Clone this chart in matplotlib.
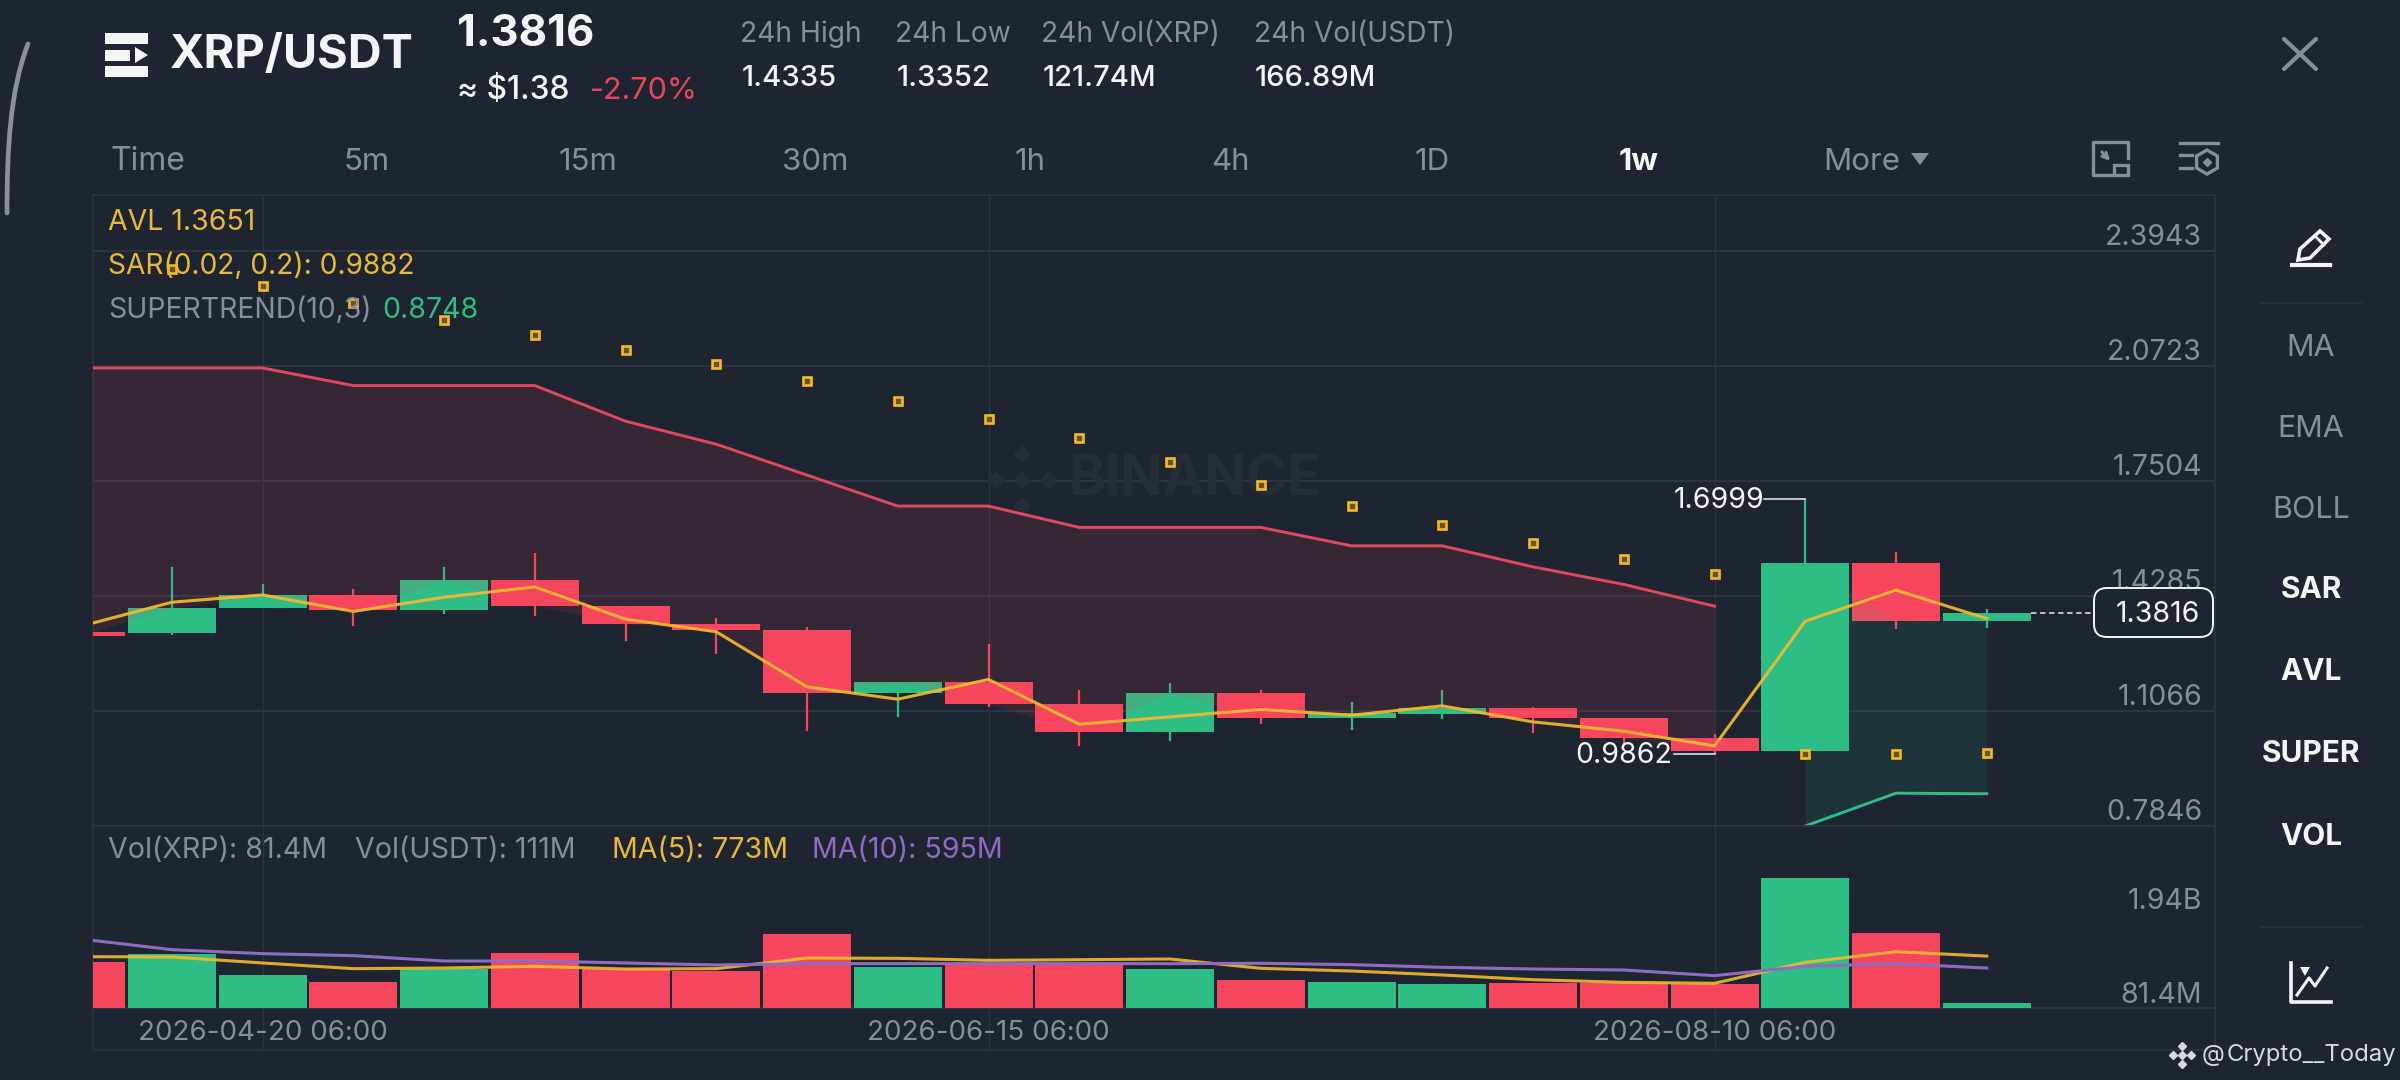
import numpy as np
import matplotlib
matplotlib.use("Agg")
import matplotlib.pyplot as plt
from matplotlib.patches import Rectangle, Polygon, FancyBboxPatch, RegularPolygon, PathPatch
from matplotlib.path import Path

plt.rcParams['font.family'] = ['Inter', 'DejaVu Sans']

# candles, oldest first
opens = [1.3263, 1.3240, 1.3946, 1.4301, 1.3881, 1.4730, 1.4010, 1.3509, 1.3327, 1.1555, 1.1863,
         1.1255, 1.0480, 1.1572, 1.0855, 1.0975, 1.1135, 1.0863, 1.0304, 0.9940, 1.5203, 1.3579]
closes = [1.3176, 1.3937, 1.4301, 1.3881, 1.4730, 1.4010, 1.3509, 1.3327, 1.1555, 1.1863, 1.1255,
          1.0480, 1.1572, 1.0855, 1.0995, 1.1135, 1.0863, 1.0304, 0.9940, 1.5203, 1.3579, 1.3816]
highs = [1.3263, 1.5105, 1.4623, 1.4483, 1.5082, 1.5500, 1.4010, 1.3657, 1.3419, 1.1863, 1.2935,
         1.1647, 1.1835, 1.1647, 1.1303, 1.1647, 1.1163, 1.0863, 1.0416, 1.6999, 1.5502, 1.3907]
lows = [1.3176, 1.3198, 1.3946, 1.3445, 1.3775, 1.3711, 1.3014, 1.2661, 1.0508, 1.0883, 1.1180,
        1.0088, 1.0228, 1.0695, 1.0527, 1.0836, 1.0452, 1.0108, 0.9862, 0.9940, 1.3347, 1.3392]

avl = [1.3439, 1.4108, 1.4313, 1.3851, 1.4248, 1.4537, 1.3635, 1.3282, 1.1740, 1.1395, 1.1947,
       1.0695, 1.0900, 1.1107, 1.0947, 1.1208, 1.0760, 1.0500, 1.0088, 1.3579, 1.4447, 1.3651]
sar = [np.nan, 2.3428, 2.2946, 2.2476, 2.2014, 2.1586, 2.1169, 2.0771, 2.0298, 1.9738, 1.9234,
       1.8711, 1.8022, 1.7386, 1.6807, 1.6267, 1.5777, 1.5323, 1.4903, 0.9856, 0.9856, 0.9892]
trend_down = [2.0665, 2.0665, 2.0665, 2.0172, 2.0172, 2.0172, 1.9175, 1.8531, 1.7666, 1.6799, 1.6799,
              1.6202, 1.6202, 1.6202, 1.5687, 1.5687, 1.5099, 1.4607, 1.3999]
trend_up = [0.7846, 0.8764, 0.8748]

volume = [680, 805, 487, 382, 586, 820, 586, 546, 1103, 616, 646,
          646, 576, 422, 387, 363, 373, 373, 363, 1940, 1118, 81.4]
ma5 = [765, 760, 671, 586, 596, 621, 581, 586, 745, 740, 710,
       720, 730, 591, 551, 492, 422, 382, 368, 680, 839, 773]
ma10 = [1028, 869, 810, 780, 700, 700, 671, 641, 661, 661, 661,
        661, 661, 666, 646, 606, 581, 566, 482, 621, 661, 595]

price_ticks = [2.3943, 2.0723, 1.7504, 1.4285, 1.1066, 0.7846]
price_labels = ["2.3943", "2.0723", "1.7504", "1.4285", "1.1066", "0.7846"]
date_ticks = [2, 10, 18]
date_labels = ["2026-04-20 06:00", "2026-06-15 06:00", "2026-08-10 06:00"]
tabs = ["5m", "15m", "30m", "1h", "4h", "1D"]

bg = "#1E2530"
grid = "#2D343E"
green = "#2EBD85"
red = "#F6465D"
yellow = "#F0B90B"
gray = "#848E9C"
purple = "#8E6CC4"
white = "#F4F5F6"

fig = plt.figure(figsize=(24, 10.8), dpi=100, facecolor=bg)

# pixel boxes of the panels: 93..2215 across, 195..826 and 826..1050 down
ax = fig.add_axes([93 / 2400, 254 / 1080, 2122 / 2400, 631 / 1080], facecolor="none")
axv = fig.add_axes([93 / 2400, 30 / 1080, 2122 / 2400, 224 / 1080], facecolor="none")
ui = fig.add_axes([0, 0, 1, 1], facecolor="none", zorder=5)
ui.set_xlim(0, 2400)
ui.set_ylim(1080, 0)
ui.axis("off")

x = np.arange(len(opens))
colors = [green if c >= o else red for o, c in zip(opens, closes)]

for a in (ax, axv):
    a.set_xlim(0.132, 23.515)
    a.set_xticks(date_ticks)
    a.tick_params(length=0, labelbottom=False, labelleft=False)
    a.grid(True, axis="x", color=grid, lw=1)
    for s in a.spines.values():
        s.set_color(grid)
        s.set_linewidth(1.2)
    a.set_axisbelow(True)

# price panel
ax.set_ylim(0.7846, 2.5505)
ax.set_yticks(price_ticks)
ax.grid(True, axis="y", color=grid, lw=1.5)
ax.vlines(x, lows, highs, color=colors, lw=1.6, zorder=2)
ax.bar(x, np.abs(np.array(closes) - np.array(opens)), bottom=np.minimum(opens, closes),
       width=0.97, color=colors, zorder=3)
xd = x[:len(trend_down)]
ax.fill_between(xd, trend_down, closes[:len(trend_down)], color=red, alpha=0.11, lw=0, zorder=4)
ax.plot(xd, trend_down, color="#E0485F", lw=2.1, zorder=5)
xu = x[-len(trend_up):]
ax.fill_between(xu, trend_up, closes[-len(trend_up):], color=green, alpha=0.1, lw=0, zorder=4)
ax.plot(xu, trend_up, color=green, lw=2.1, zorder=5)
ax.plot(x, avl, color="#F3BA2F", lw=2.2, alpha=0.92, zorder=6)
ax.plot(x, sar, ls="none", marker="s", ms=5.4, mfc="#6B5516", mec="#F3BA2F", mew=1.9, zorder=7)

# watermark
ax.text(1068, 480, "BINANCE", transform=ui.transData, color="#262D38", fontsize=40, fontweight="bold",
        va="center", ha="left", zorder=1.5)
ax.plot([1022], [480], marker="D", ms=9, mfc="#262D38", mec="none", transform=ui.transData, zorder=1.5)
for dx, dy in [(-26, 0), (26, 0), (0, -26), (0, 26)]:
    ax.plot([1022 + dx], [480 + dy], marker="D", ms=9, mfc="#262D38", mec="none",
            transform=ui.transData, zorder=1.5)

for p, lab in zip(price_ticks, price_labels):
    ax.annotate(lab, xy=(1, p), xycoords=("axes fraction", "data"), xytext=(-13, 13),
                textcoords="offset pixels", ha="right", va="center", color=gray, fontsize=20.5, zorder=8)

# high / low callouts
i_hi = int(np.argmax(highs))
i_lo = int(np.argmin(lows))
ax.annotate("1.6999", xy=(x[i_hi], highs[i_hi]), xytext=(-41, -2), textcoords="offset pixels",
            ha="right", va="center", color=white, fontsize=20.5, zorder=8)
ax.plot([x[i_hi] - 0.45, x[i_hi]], [highs[i_hi], highs[i_hi]], color="#DDE0E4", lw=1.2, zorder=8)
ax.annotate("0.9862", xy=(x[i_lo], lows[i_lo]), xytext=(-42, -2), textcoords="offset pixels",
            ha="right", va="center", color=white, fontsize=20.5, zorder=8)
ax.plot([x[i_lo] - 0.45, x[i_lo]], [lows[i_lo], lows[i_lo]], color="#DDE0E4", lw=1.2, zorder=8)

# volume panel
axv.set_ylim(-626, 2712)
axv.set_yticks([0])
axv.grid(True, axis="y", color=grid, lw=1.5)
axv.bar(x, volume, width=0.97, color=colors, zorder=3)
axv.plot(x, ma5, color="#F3BA2F", lw=2.2, alpha=0.9, zorder=4)
axv.plot(x, ma10, color=purple, lw=2.2, zorder=5)
for t, lab in zip(date_ticks, date_labels):
    axv.annotate(lab, xy=(t, 0), xytext=(0, -25), textcoords="offset pixels", ha="center", va="center",
                 color=gray, fontsize=20)
axv.annotate("1.94B", xy=(1, 1940), xycoords=("axes fraction", "data"), xytext=(-13, -24),
             textcoords="offset pixels", ha="right", va="center", color=gray, fontsize=20.5)
axv.annotate("81.4M", xy=(1, 81.4), xycoords=("axes fraction", "data"), xytext=(-13, 7),
             textcoords="offset pixels", ha="right", va="center", color=gray, fontsize=20.5)


def label(px, py, s, color=gray, size=19, weight="normal", ha="left"):
    ui.text(px, py + 3, s, color=color, fontsize=size, fontweight=weight, ha=ha, va="center")


# legends
label(108, 219, "AVL 1.3651", "#E8BA3A", 20.5)
label(108, 263, "SAR(0.02, 0.2): 0.9882", "#E8BA3A", 20.2)
label(108, 307, "SUPERTREND(10,3)", gray, 20.4)
label(382, 307, "0.8748", green, 20.5)
label(108, 847, "Vol(XRP): 81.4M", gray, 20.6)
label(355, 847, "Vol(USDT): 111M", gray, 20.6)
label(612, 847, "MA(5): 773M", "#E8BA3A", 20.6)
label(812, 847, "MA(10): 595M", purple, 20.6)

# last price tag
ui.plot([2031, 2092], [612.5, 612.5], color="#C9CDD2", lw=1.3, ls=(0, (3, 2)))
ui.add_patch(FancyBboxPatch((2094, 588), 119, 49, boxstyle="round,pad=0,rounding_size=13",
                            ec=white, fc=bg, lw=1.4))
label(2200, 611, "1.3816", white, 20.5, ha="right")

# header
ui.add_patch(Rectangle((105, 33), 43, 11, fc=white))
ui.add_patch(Rectangle((105, 66), 43, 11, fc=white))
ui.add_patch(Rectangle((105, 50), 25, 11, fc=white))
ui.add_patch(Polygon([(135, 47), (148, 55), (135, 63)], fc=white))
label(170, 53, "XRP/USDT", white, 33.7, "bold")
label(457, 31, "1.3816", white, 31.5, "bold")
label(457, 88, "≈ $1.38", white, 22.8, "medium")
label(590, 88, "-2.70%", "#E8445F", 22)
for px, s in [(740, "24h High"), (895, "24h Low"), (1041, "24h Vol(XRP)"), (1254, "24h Vol(USDT)")]:
    label(px, 31, s, gray, 20.3)
for px, s in [(742, "1.4335"), (897, "1.3352"), (1043, "121.74M"), (1255, "166.89M")]:
    label(px, 76, s, white, 21, "medium")

# interval tabs
label(110, 159, "Time", gray, 23)
for px, s in zip([367, 588, 815, 1030, 1230, 1432], tabs):
    label(px, 159, s, gray, 22.5, ha="center")
label(1639, 159, "1w", white, 22.5, "bold", ha="center")
label(1823, 159, "More", gray, 22.5)
ui.add_patch(Polygon([(1911, 153), (1929, 153), (1920, 165)], fc=gray))

# top right icons
ui.plot([2284, 2316], [39, 69], color=gray, lw=3, solid_capstyle="round")
ui.plot([2284, 2316], [69, 39], color=gray, lw=3, solid_capstyle="round")
ui.plot([2112, 2093, 2093, 2128, 2128], [175, 175, 142, 142, 158], color=gray, lw=2.4)
ui.add_patch(Rectangle((2114, 165), 14, 10, fc="none", ec=gray, lw=2.4))
ui.annotate("", xy=(2112, 163), xytext=(2100, 150), arrowprops=dict(arrowstyle="->", color=gray, lw=2.2))
ui.plot([2180, 2218], [143, 143], color=gray, lw=2.4)
ui.plot([2180, 2192], [155, 155], color=gray, lw=2.4)
ui.plot([2180, 2192], [168, 168], color=gray, lw=2.4)
ui.add_patch(RegularPolygon((2207, 162), 6, radius=12, fc="none", ec=gray, lw=2.4))
ui.plot([2207], [162], marker="D", ms=4, color=gray)

# side menu
ui.add_patch(Polygon([(2298, 260), (2300, 249), (2320, 231), (2329, 239), (2310, 258)], fc="none", ec=white, lw=2.6))
ui.plot([2315, 2324], [236, 245], color=white, lw=2)
ui.plot([2292, 2330], [264.5, 264.5], color=white, lw=3)
ui.plot([2261, 2361], [303, 303], color=grid, lw=1.2)
ui.plot([2261, 2361], [927, 927], color=grid, lw=1.2)
for py, s, c, w in [(345, "MA", gray, "normal"), (426, "EMA", gray, "normal"), (507, "BOLL", gray, "normal"),
                    (587, "SAR", white, "bold"), (669, "AVL", white, "bold"),
                    (751, "SUPER", white, "bold"), (834, "VOL", white, "bold")]:
    label(2311, py, s, c, 22 if w == "normal" else 21.5, w, ha="center")
ui.plot([2291, 2291, 2331], [963, 1002, 1002], color=white, lw=2.6)
ui.plot([2297, 2309, 2315, 2327], [995, 978, 986, 968], color=white, lw=2.2)
ui.add_patch(Polygon([(2300, 967), (2310, 967), (2305, 976)], fc=white))

# left edge handle
arc = Path([(28, 44), (10, 90), (7, 150), (7, 213)], [Path.MOVETO, Path.CURVE4, Path.CURVE4, Path.CURVE4])
ui.add_patch(PathPatch(arc, fc="none", ec="#8D9096", lw=3.4, capstyle="round"))

# credit
for dx, dy in [(-9, 0), (9, 0), (0, -9), (0, 9), (0, 0)]:
    ui.plot([2182 + dx], [1055 + dy], marker="D", ms=4.2, color="#D8DADD")
label(2202, 1052, "@", "#D8DADD", 17)
label(2227, 1052, "Crypto__Today", "#D8DADD", 17.2)

fig.savefig("out.png", dpi=100, facecolor=bg)
